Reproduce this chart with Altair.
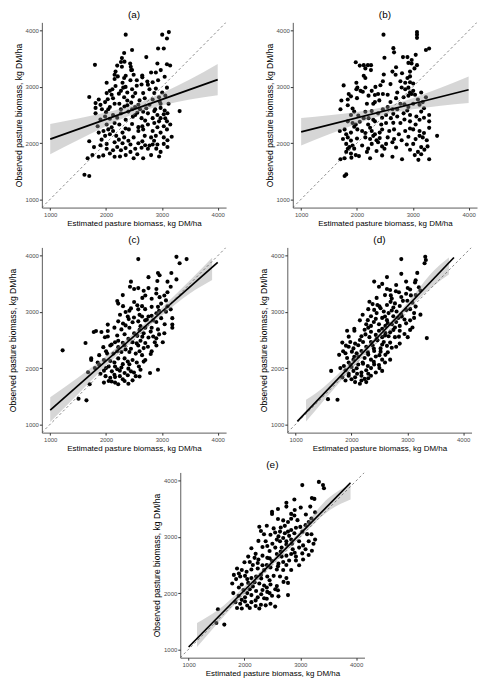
import altair as alt
import pandas as pd

# ---------------- data (estimated, observed) ----------------
A_PTS = [(2352,3931),(3006,3931),(3125,3977),(3091,3863),(2466,3657),(2324,3605),(2932,3685),(3034,3685),
(2284,3513),(2721,3531),(2267,3445),(2432,3416),(1801,3393),(2920,3416),(3091,3405),(3148,3382),
(2284,3359),(2443,3359),(2466,3302),(2170,3273),(2807,3256),(2892,3256),(2153,3216),(2352,3199),
(2494,3216),(2648,3204),(2210,3187),(2324,3159),(2153,3141),(2437,3118),(2551,3118),(2739,3096),
(2932,3118),(2011,3073),(2295,3073),(2835,3084),(2636,3044),(2170,3015),(2307,2987),(2113,2958),
(2466,2958),(2778,2958),(2892,2970),(3091,2987),(2068,2930),(2267,2930),(2381,2901),(2523,2890),
(2665,2890),(2864,2890),(3006,2901),(2011,2890),(1699,2821),(1869,2775),(2125,2798),(2324,2815),
(2381,2758),(2693,2798),(2835,2775),(2949,2815),(3062,2844),(1812,2712),(1983,2729),(2153,2701),
(2238,2701),(2068,2643),(2381,2672),(2579,2683),(2778,2683),(2977,2701),(1812,2626),(1926,2603),
(2040,2603),(2267,2603),(2466,2603),(2608,2603),(2665,2558),(2864,2569),(2977,2626),(1812,2529),
(1983,2472),(2125,2500),(2267,2529),(2523,2500),(2750,2529),(2920,2500),(3034,2512),(3318,2569),
(2068,2432),(2352,2414),(2636,2443),(2835,2443),(2977,2443),(3091,2386),(2153,2357),(2011,2329),
(2238,2329),(2466,2340),(2579,2283),(2750,2329),(2864,2357),(2949,2386),(3034,2300),(1954,2214),
(2040,2243),(2125,2214),(2295,2186),(2409,2243),(2579,2214),(2665,2243),(2835,2214),(2977,2186),
(3091,2243),(1869,2186),(1983,2128),(2068,2157),(2182,2128),(2324,2100),(2494,2100),(2693,2128),
(2807,2100),(2892,2128),(3034,2100),(3176,2111),(1699,2031),(2011,1985),(2153,2014),(2295,1997),
(2437,1974),(2579,1997),(2778,1957),(2920,1974),(3034,1985),(1784,1928),(2011,1899),(2125,1871),
(2267,1871),(2437,1842),(2523,1899),(2636,1917),(2750,1899),(2835,1974),(2977,1842),(1670,1728),
(1756,1785),(1869,1756),(2068,1813),(2153,1756),(2352,1785),(2494,1728),(2665,1728),(2807,1785),
(1613,1436),(1699,1413),
(2100,2860),(2230,2880),(2480,2830),(2600,2760),(2960,2740),(3120,2700),(1900,2680),(2330,2650),
(2520,2640),(2720,2620),(2880,2600),(3050,2580),(2000,2550),(2400,2560),(2560,2540),(3100,2530),
(1900,2420),(2200,2450),(2480,2470),(2700,2400),(3060,2440),(1850,2300),(2100,2280),(2350,2260),
(2650,2300),(2920,2280),(3150,2330),(1920,2060),(2230,2060),(2400,2040),(2650,2030),(2860,2040),
(3100,2050),(1900,1960),(2200,1930),(2350,1910),(2700,1960),(2900,1900),(3100,1930),(1950,1780),
(2250,1760),(2560,1800),(2950,1760),(2350,3000),(2550,3020),(2750,3040),(2450,3300),(2330,3450),
(2200,3380),(2980,3300),(3050,3180),(2650,3170),(2030,2780),(2450,2720)]

B_PTS = [(2475,3931),(3075,3977),(3075,3931),(3075,3874),(3235,3657),(3292,3685),(2652,3691),(2664,3616),
(2492,3519),(2824,3531),(2904,3531),(3052,3571),(1978,3439),(2921,3428),(2978,3416),(3075,3388),
(2121,3388),(2195,3388),(2252,3388),(2150,3330),(2121,3199),(2150,3159),(2635,3273),(2692,3216),
(2807,3244),(2950,3273),(2950,3187),(2904,3159),(2464,3101),(2778,3101),(2864,3073),(2950,3084),
(3007,3061),(1761,3027),(1989,3073),(2007,2987),(2064,2930),(2104,2913),(1989,2958),(2264,2930),
(2464,2873),(2721,2901),(2864,2958),(2921,2987),(2950,2901),(2978,2873),(3007,2930),(2921,2844),
(2835,2815),(1852,2873),(1892,2832),(1835,2775),(1721,2758),(2207,2844),(2321,2855),(2378,2873),
(3235,2815),(3178,2729),(3092,2775),(2178,2701),(2292,2701),(2321,2729),(1835,2672),(1704,2603),
(1921,2615),(2464,2603),(2550,2643),(2635,2603),(2721,2603),(2778,2701),(2921,2643),(3007,2701),
(3121,2683),(2150,2557),(2264,2569),(2378,2529),(2835,2529),(2950,2500),(3064,2472),(3293,2500),
(1892,2500),(2024,2489),(2121,2443),(2207,2443),(2292,2414),(2521,2500),(2607,2443),(2721,2472),
(1835,2386),(1921,2357),(1978,2329),(2321,2386),(2435,2329),(2521,2357),(2778,2357),(2950,2386),
(3121,2414),(3293,2386),(1692,2214),(1778,2243),(1807,2157),(1892,2186),(2007,2243),(2092,2214),
(2235,2271),(2264,2214),(2321,2157),(2407,2186),(2578,2214),(2664,2243),(2750,2157),(2864,2214),
(3007,2243),(3121,2214),(3293,2271),(3435,2128),(1749,2071),(1835,2100),(1892,2043),(2150,2100),
(2235,2071),(2292,2128),(2407,2088),(2550,2100),(2664,2071),(2921,2111),(3121,2128),(3178,2100),
(1807,1985),(1864,1928),(1835,1899),(1921,1957),(2092,1957),(2264,1985),(2378,2014),(2521,1985),
(2635,2014),(2892,1974),(3007,1985),(3150,1928),(3264,1940),(1807,1842),(1892,1813),(1978,1785),
(2035,1767),(2178,1842),(2350,1859),(2492,1899),(2635,1756),(2807,1710),(3035,1785),(3092,1842),
(3207,1882),(3293,1710),(1704,1710),(1778,1728),(2235,1728),(1778,1413),(1807,1441),
(2050,3380),(2250,3300),(2480,3220),(2700,3350),(2980,3480),(3030,3330),(2420,3030),(2600,3050),
(2800,2990),(2150,2990),(2330,3000),(2550,2860),(2700,2800),(3040,2860),(3150,2900),(2000,2800),
(2400,2760),(2600,2730),(2850,2690),(3200,2620),(1950,2560),(2450,2450),(2650,2520),(2900,2580),
(3150,2560),(2050,2380),(2200,2330),(2650,2360),(2850,2420),(3050,2330),(3200,2450),(1950,2290),
(2150,2180),(2450,2240),(2950,2260),(3200,2180),(2000,2080),(2350,2050),(2450,1940),(2800,2050),
(3050,2070),(3250,2050),(1950,1900),(2200,1900),(2700,1920),(2950,1880),(3150,1800),(1900,1740),
(2450,1780),(3100,1700)]

C_PTS = [(2577,3942),(3261,3982),(3318,3867),(3443,3942),(2760,3620),(2930,3695),(2959,3655),(3170,3695),
(3261,3580),(3101,3540),(2919,3551),(2446,3540),(2429,3448),(2503,3408),(2577,3425),(2760,3425),
(2902,3408),(3158,3448),(2674,3379),(2703,3293),(2817,3235),(2959,3264),(3044,3293),(3073,3206),
(2201,3195),(2218,3149),(2304,3103),(2503,3178),(2560,3120),(2645,3103),(2446,3063),(2418,3023),
(2577,3046),(2817,3091),(2930,3091),(2987,3149),(2389,2919),(2406,2873),(2600,2948),(2645,2919),
(2760,2919),(2817,2931),(2902,2977),(3073,3005),(3158,3046),(2218,2833),(2304,2793),(2475,2816),
(2577,2833),(2731,2862),(2845,2850),(2987,2890),(3187,2890),(2031,2775),(1820,2661),(1917,2643),
(2031,2661),(2031,2563),(2418,2718),(2617,2747),(2703,2718),(2817,2718),(2930,2689),(3187,2775),
(3187,2718),(2275,2689),(2332,2603),(2503,2620),(2560,2574),(2674,2620),(2760,2546),(2845,2563),
(3044,2620),(1632,2448),(1780,2643),(2161,2459),(2218,2488),(2475,2459),(2617,2488),(2703,2448),
(2873,2459),(3016,2459),(1951,2373),(2076,2402),(2218,2373),(2332,2402),(2446,2344),(2577,2402),
(2674,2356),(2817,2298),(2902,2402),(1222,2316),(1734,2172),(1877,2230),(2019,2258),(2133,2258),
(2275,2287),(2418,2287),(2532,2258),(2645,2230),(1734,2143),(1962,2143),(2076,2126),(2218,2172),
(2332,2172),(2389,2115),(2475,2143),(2703,2143),(1877,2057),(2047,2028),(2161,2028),(2275,2011),
(2418,2069),(2589,2028),(2674,2115),(1678,1925),(1962,1954),(2104,1942),(2247,1954),(2332,1913),
(2446,1942),(2617,1971),(2788,1913),(2930,1971),(1991,1856),(2076,1827),(2161,1839),(2247,1856),
(2389,1873),(2532,1856),(1962,1741),(2047,1770),(2161,1741),(2218,1712),(2332,1770),(2475,1781),
(1706,1712),(1507,1454),(1649,1425),
(2300,3300),(2650,3250),(2900,3330),(3100,3350),(2350,3000),(2700,3050),(2950,3020),(3100,3100),
(2250,2950),(2500,2900),(2700,2850),(2900,2820),(3050,2780),(2150,2720),(2350,2760),(2600,2680),
(2800,2650),(2950,2600),(1980,2550),(2200,2580),(2400,2520),(2650,2560),(2900,2530),(2100,2420),
(2300,2450),(2550,2440),(2750,2380),(2000,2300),(2200,2300),(2350,2330),(2600,2300),(2800,2250),
(1850,2100),(2150,2100),(2300,2070),(2550,2100),(1800,2000),(2000,2000),(2200,1980),(2400,1990),
(2500,1920),(1900,1900),(2150,1880),(2300,1800),(2600,1850),(2100,1760),(2400,1720)]

D_PTS = [(2892,3942),(3321,3982),(3332,3925),(3309,3867),(2406,3541),(2635,3621),(2892,3679),(3178,3696),
(3149,3564),(3138,3524),(2492,3450),(2635,3410),(2692,3392),(2978,3541),(3007,3427),(2795,3369),
(2704,3295),(2721,3238),(2892,3266),(2978,3324),(3064,3295),(3207,3438),(3235,3381),(2321,3181),
(2378,3140),(2464,3123),(2521,3066),(2635,3123),(2778,3152),(2864,3106),(2921,3198),(3092,3163),
(3149,3095),(2406,3037),(2578,3009),(2664,2980),(2721,3026),(2807,3009),(2892,2952),(2978,3037),
(3121,2980),(3235,2952),(2349,2923),(2292,2854),(2435,2877),(2549,2894),(2635,2854),(2749,2923),
(2835,2894),(2949,2866),(3121,2894),(2264,2780),(2349,2751),(2492,2780),(2607,2751),(2721,2780),
(2778,2723),(2864,2751),(2978,2797),(3092,2723),(1921,2665),(2052,2665),(2235,2683),(2349,2648),
(2492,2665),(2607,2625),(2692,2637),(2864,2665),(2949,2608),(2178,2568),(2321,2551),(2435,2591),
(2549,2551),(2664,2568),(2778,2551),(3007,2551),(3349,2534),(1835,2454),(1978,2465),(2064,2436),
(2207,2465),(2349,2465),(2464,2494),(2578,2465),(2692,2454),(2864,2436),(1949,2379),(2035,2351),
(2121,2408),(2264,2379),(2378,2408),(2521,2351),(2635,2396),(2721,2362),(1778,2236),(1892,2265),
(2007,2293),(2092,2265),(2178,2305),(2292,2282),(2406,2305),(2521,2293),(2607,2236),(1921,2179),
(2035,2150),(2121,2207),(2235,2179),(2349,2150),(2435,2207),(2549,2150),(2692,2150),(1864,2036),
(1978,2064),(2121,2064),(2207,2076),(2292,2036),(2406,2064),(2492,2053),(2092,1996),(1635,1950),
(1892,1961),(2035,1950),(2178,1921),(2264,1961),(2435,1921),(2549,1950),(1835,1835),(1949,1864),
(2064,1835),(2178,1864),(2235,1807),(2349,1864),(1892,1778),(2064,1750),(2178,1778),(2264,1750),
(1578,1446),(1749,1435),
(2550,3500),(2800,3480),(3050,3400),(2600,3300),(2850,3350),(3150,3300),(2450,3250),(2700,3180),
(3000,3200),(2300,3050),(2500,3100),(2750,3080),(3050,3050),(2200,2950),(2450,2980),(2600,2920),
(2900,2920),(3050,2850),(2150,2850),(2400,2820),(2650,2800),(2800,2820),(2050,2700),(2300,2720),
(2550,2700),(2750,2680),(3050,2680),(1950,2560),(2250,2600),(2450,2520),(2600,2580),(2850,2560),
(1900,2400),(2150,2500),(2400,2350),(2550,2420),(2800,2380),(1850,2300),(2050,2200),(2300,2240),
(2500,2230),(2650,2280),(1950,2100),(2200,2100),(2400,2110),(2600,2100),(1800,2000),(2000,2020),
(2350,2000),(2500,2000),(1950,1900),(2100,1900),(2300,1900),(2000,1800),(2150,1720),(2300,1820)]

E_PTS = [(3036,3925),(3333,3982),(3407,3925),(3424,3868),(2751,3611),(2894,3668),(3208,3696),(3253,3679),
(2751,3542),(3008,3525),(3179,3542),(2494,3451),(2494,3411),(2837,3411),(2894,3382),(3265,3439),
(2694,3296),(2780,3268),(2837,3325),(3094,3211),(3151,3268),(2266,3182),(2295,3108),(2523,3153),
(2723,3199),(2780,3096),(2837,3125),(2922,3165),(2466,3039),(2637,3096),(2723,3068),(2609,3011),
(2894,3068),(3036,3096),(3122,3051),(3265,2954),(2380,2925),(2580,2954),(2637,2925),(2694,2982),
(2751,2925),(2837,2954),(2979,2925),(3151,2925),(3237,2879),(2124,2799),(2323,2822),(2409,2839),
(2552,2811),(2666,2811),(2751,2868),(2865,2782),(2979,2811),(3094,2782),(3208,2754),(2067,2651),
(2181,2628),(2323,2668),(2409,2628),(2580,2696),(2666,2651),(2751,2668),(2837,2696),(2922,2651),
(3036,2708),(2095,2554),(2238,2536),(2323,2496),(2494,2571),(2609,2525),(2694,2554),(2922,2582),
(2979,2496),(1867,2439),(1952,2411),(2038,2382),(2124,2422),(2238,2439),(2352,2411),(2466,2456),
(2580,2422),(2694,2411),(2837,2411),(1810,2325),(1924,2296),(2010,2308),(2124,2268),(2209,2296),
(2295,2325),(2409,2296),(2523,2308),(2637,2296),(2751,2268),(1781,2171),(1952,2153),(2067,2182),
(2181,2193),(2266,2171),(2352,2136),(2466,2153),(2580,2125),(2780,2182),(1981,2056),(2095,2068),
(2209,2039),(2323,2056),(2409,2022),(2552,2068),(2780,1965),(1895,1953),(2010,1925),(2124,1965),
(2238,1925),(2352,1908),(2494,1953),(2609,1942),(1838,1839),(1924,1811),(2010,1850),(2124,1839),
(2295,1793),(2380,1782),(2466,1811),(1867,1736),(1952,1725),(2095,1736),(2266,1725),(1525,1713),
(1496,1468),(1639,1439),
(2600,3500),(2900,3480),(3100,3400),(2600,3320),(2950,3300),(3200,3330),(2400,3200),(2650,3170),
(3000,3180),(2350,3050),(2550,3080),(2800,3020),(3200,3050),(2250,2930),(2500,2880),(2850,2880),
(3050,2850),(2200,2700),(2450,2750),(2650,2740),(2900,2720),(3150,2680),(2000,2550),(2250,2600),
(2450,2620),(2800,2580),(3050,2600),(1900,2350),(2150,2500),(2400,2500),(2600,2480),(2750,2500),
(1850,2250),(2050,2250),(2300,2260),(2450,2230),(2700,2200),(1900,2100),(2150,2120),(2400,2100),
(2600,2050),(1800,2000),(2050,2000),(2300,1980),(2450,2000),(1950,1880),(2200,1870),(2400,1900),
(2050,1780),(2200,1770),(2550,1760)]

# fitted lines (end points)
LINE_X = {"a": [1000, 4000], "b": [1000, 4000], "c": [1000, 4000], "d": [1030, 3835], "e": [1000, 3900]}
LINE_Y = {"a": [2070, 3130], "b": [2200, 2950], "c": [1250, 3885], "d": [1050, 3970], "e": [1040, 3966]}

# confidence bands (x, lower, upper)
BAND_X = {"a": [1000, 1500, 2000, 2500, 3000, 3500, 4000],
          "b": [1000, 1500, 2000, 2500, 3000, 3500, 4000],
          "c": [1000, 1500, 2000, 2500, 3000, 3500, 3900],
          "d": [1185, 1500, 2000, 2500, 3000, 3500, 3745],
          "e": [1150, 1500, 2000, 2500, 3000, 3500, 3900]}
BAND_LO = {"a": [1800, 2055, 2301, 2518, 2667, 2776, 2850],
           "b": [1955, 2155, 2345, 2503, 2600, 2665, 2715],
           "c": [1040, 1540, 2040, 2510, 2935, 3330, 3570],
           "d": [1046, 1420, 1985, 2535, 3035, 3490, 3667],
           "e": [1040, 1440, 1985, 2505, 2995, 3460, 3667]}
BAND_HI = {"a": [2340, 2439, 2545, 2682, 2887, 3130, 3410],
           "b": [2445, 2495, 2555, 2647, 2800, 2985, 3185],
           "c": [1480, 1830, 2215, 2625, 3075, 3560, 3965],
           "d": [1434, 1660, 2130, 2625, 3160, 3760, 3970],
           "e": [1468, 1680, 2120, 2600, 3115, 3690, 3942]}

DIAG = [850, 4150]
TICKS = [1000, 2000, 3000, 4000]
X_TITLE = "Estimated pasture biomass, kg DM/ha"
Y_TITLE = "Observed pasture biomass, kg DM/ha"

W, H = 185, 186
FONT = "Liberation Sans"
NOVIEW = alt.ViewBackground(stroke="transparent", fill="white")


def panel(key, pts, ytp=2.5):
    sc = alt.Scale(domain=[850, 4150], nice=False, zero=False)
    xax = alt.Axis(values=TICKS, format="d", title=X_TITLE, grid=False, tickSize=2.5,
                   labelFontSize=6, labelColor="#4d4d4d", labelPadding=1, labelFont=FONT,
                   titleFontSize=8, titleFontWeight="normal", titleColor="black", titleFont=FONT,
                   titlePadding=2, domainColor="#333333", tickColor="#333333", domainWidth=0.8)
    yax = alt.Axis(values=TICKS, format="d", title=Y_TITLE, grid=False, tickSize=2.5,
                   labelFontSize=6, labelColor="#4d4d4d", labelPadding=1, labelFont=FONT,
                   titleFontSize=8.6, titleFontWeight="normal", titleColor="black", titleFont=FONT,
                   titlePadding=ytp, domainColor="#333333", tickColor="#333333", domainWidth=0.8,
                   minExtent=16, maxExtent=16)
    df = pd.DataFrame(pts, columns=["est", "obs"])
    band = pd.DataFrame({"est": BAND_X[key], "lo": BAND_LO[key], "hi": BAND_HI[key]})
    line = pd.DataFrame({"est": LINE_X[key], "obs": LINE_Y[key]})
    diag = pd.DataFrame({"est": DIAG, "obs": DIAG})

    p = alt.Chart(df).mark_circle(size=17, color="black", opacity=1).encode(
        x=alt.X("est:Q", scale=sc, axis=xax), y=alt.Y("obs:Q", scale=sc, axis=yax))
    b = alt.Chart(band).mark_area(color="#999999", opacity=0.4, interpolate="monotone").encode(
        x=alt.X("est:Q", scale=sc), y=alt.Y("lo:Q", scale=sc), y2="hi:Q")
    l = alt.Chart(line).mark_line(color="black", strokeWidth=1.7, clip=True).encode(
        x=alt.X("est:Q", scale=sc), y=alt.Y("obs:Q", scale=sc))
    d = alt.Chart(diag).mark_line(color="#555555", strokeWidth=0.7, strokeDash=[2.5, 2.5], clip=True).encode(
        x=alt.X("est:Q", scale=sc), y=alt.Y("obs:Q", scale=sc))
    return alt.layer(p, b, l, d).properties(
        width=W, height=H, view=NOVIEW,
        title=alt.TitleParams("(" + key + ")", fontSize=10, fontWeight="normal", font=FONT,
                              color="black", anchor="middle", frame="group", offset=2))


spacer = alt.Chart(pd.DataFrame({"v": [0]})).mark_point(opacity=0).encode(
    x=alt.X("v:Q", axis=None), y=alt.Y("v:Q", axis=None)).properties(width=110, height=H, view=NOVIEW)

row1 = alt.hconcat(panel("a", A_PTS), panel("b", B_PTS), spacing=38)
row2 = alt.hconcat(panel("c", C_PTS, ytp=8), panel("d", D_PTS), spacing=32.5)
row3 = alt.hconcat(spacer, panel("e", E_PTS), spacing=0)

chart = alt.vconcat(row1, row2, row3, spacing=7).properties(padding=0).configure_view(
    stroke="transparent").configure(font=FONT)

chart.save("out.html", embed_options={"renderer": "svg", "actions": False})
